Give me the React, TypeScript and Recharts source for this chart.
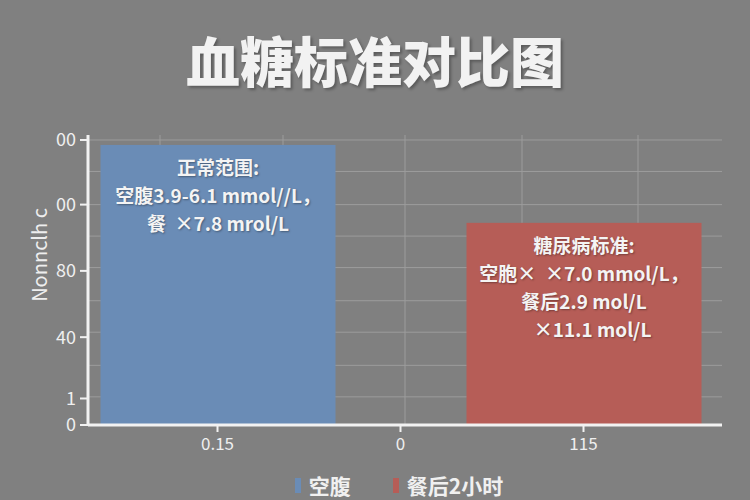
import { BarChart, Bar, XAxis, YAxis, CartesianGrid, Legend } from 'recharts'

const categories = ['0.15', '0', '115']
const fasting = [169, null, null]
const postMeal = [null, null, 122]
const yTicks = [0, 16, 53, 93, 133, 172]
const yTickLabels = ['0', '1', '40', '80', '00', '00']
const gridValues = [17, 36, 56, 75, 95, 114, 133, 153, 172]
const fastingNote = ['正常范围:', '空腹3.9-6.1 mmol//L，', '餐  ×7.8 mrol/L']
const postMealNote = ['糖尿病标准:', '空胞×  ×7.0 mmol/L，', '餐后2.9 mol/L', '    ×11.1 mol/L']
const seriesNames = ['空腹', '餐后2小时']
const yLabel = 'Nonnclh c'

const Y_MAX = 175

const data = categories.map((name, i) => ({
  name,
  fasting: fasting[i],
  postMeal: postMeal[i],
}))

const FONT = '"Noto Sans CJK SC", "Noto Sans", sans-serif'
const BLUE = '#6a8cb6'
const RED = '#b65d57'
const BAR_W = 235

function WideBar(props: any) {
  const { x, y, width, height, fill } = props
  if (!height) return null
  const cx = x + width / 2
  return <rect x={cx - BAR_W / 2} y={y} width={BAR_W} height={height} fill={fill} />
}

function note(lines: string[]) {
  return (p: any) => {
    if (!p.height || p.height <= 0) return null
    const cx = p.x + p.width / 2
    return (
      <g>
        {lines.map((t, i) => (
          <text
            key={i}
            x={cx}
            y={p.y + 30 + i * 28}
            textAnchor="middle"
            fill="#f4f4f4"
            fontSize={19}
            fontWeight={700}
            fontFamily={FONT}
            style={{ whiteSpace: 'pre', textShadow: '1px 1px 2px rgba(0,0,0,0.35)' }}
          >
            {t}
          </text>
        ))}
      </g>
    )
  }
}

function LegendBox() {
  const colors = [BLUE, RED]
  return (
    <div style={{ display: 'flex', justifyContent: 'center', gap: 42, paddingLeft: 48, fontFamily: FONT }}>
      {seriesNames.map((n, i) => (
        <div key={n} style={{ display: 'flex', alignItems: 'center', gap: 8 }}>
          <span style={{ width: 6, height: 15, background: colors[i], display: 'inline-block' }} />
          <span style={{ color: '#f0f0f0', fontSize: 21, fontWeight: 700 }}>{n}</span>
        </div>
      ))}
    </div>
  )
}

export default function App() {
  return (
    <div style={{ position: 'absolute', left: 0, top: 0, width: 750, height: 500, background: '#808080' }}>
      <div
        style={{
          position: 'absolute',
          top: 24,
          width: 750,
          textAlign: 'center',
          fontFamily: FONT,
          fontSize: 54,
          fontWeight: 900,
          color: '#f2f2f2',
          textShadow: '2px 2px 3px rgba(0,0,0,0.3)',
          lineHeight: '72px',
        }}
      >
        血糖标准对比图
      </div>
      <BarChart
        width={750}
        height={500}
        data={data}
        margin={{ top: 135, right: 28, left: 0, bottom: 35 }}
        style={{ position: 'absolute', left: 0, top: 0 }}
      >
        <CartesianGrid
          stroke="#9c9c9c"
          strokeWidth={1}
          horizontalCoordinatesGenerator={({ offset }: any) =>
            gridValues.map((v) => offset.top + offset.height * (1 - v / Y_MAX))
          }
          verticalPoints={[160, 283, 405, 522, 638]}
        />
        <XAxis
          dataKey="name"
          height={40}
          padding={{ left: 38, right: 47 }}
          axisLine={{ stroke: '#f2f2f2', strokeWidth: 3 }}
          tickLine={{ stroke: '#f2f2f2', strokeWidth: 2 }}
          tickSize={7}
          tick={{ fill: '#efefef', fontSize: 17, fontFamily: FONT }}
          tickMargin={6}
        />
        <YAxis
          width={88}
          domain={[0, Y_MAX]}
          ticks={yTicks}
          interval={0}
          tickFormatter={(_v: number, i: number) => yTickLabels[i]}
          axisLine={{ stroke: '#f2f2f2', strokeWidth: 3 }}
          tickLine={{ stroke: '#f2f2f2', strokeWidth: 2 }}
          tickSize={8}
          tickMargin={4}
          tick={{ fill: '#efefef', fontSize: 18, fontFamily: FONT }}
          label={{
            position: 'insideLeft',
            content: () => (
              <text
                transform="translate(47,255) rotate(-90)"
                textAnchor="middle"
                fill="#eeeeee"
                fontSize={20}
                fontFamily={FONT}
              >
                {yLabel}
              </text>
            ),
          }}
        />
        <Legend
          verticalAlign="middle"
          align="center"
          layout="horizontal"
          wrapperStyle={{ top: 470, left: 0, width: 750 }}
          content={() => <LegendBox />}
        />
        <Bar
          dataKey="fasting"
          name={seriesNames[0]}
          stackId="a"
          fill={BLUE}
          barSize={160}
          shape={(p: any) => <WideBar {...p} />}
          label={note(fastingNote)}
          isAnimationActive={false}
        />
        <Bar
          dataKey="postMeal"
          name={seriesNames[1]}
          stackId="a"
          fill={RED}
          barSize={160}
          shape={(p: any) => <WideBar {...p} />}
          label={note(postMealNote)}
          isAnimationActive={false}
        />
      </BarChart>
    </div>
  )
}
